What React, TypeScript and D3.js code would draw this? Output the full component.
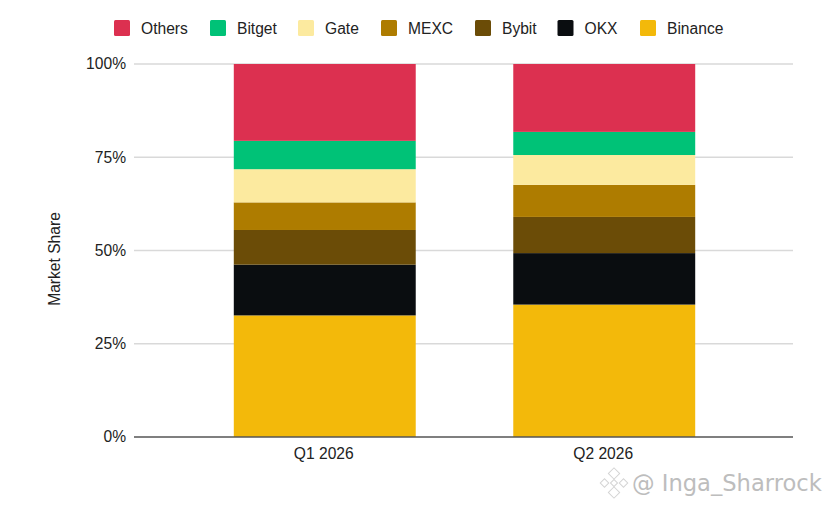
import { useEffect, useRef } from "react";
import * as d3 from "d3";

const quarters = ["Q1 2026", "Q2 2026"];
// stacked bottom to top
const exchanges = ["Binance", "OKX", "Bybit", "MEXC", "Gate", "Bitget", "Others"];
const q1Shares = [32.6, 13.6, 9.3, 7.4, 8.9, 7.6, 20.6];
const q2Shares = [35.5, 13.8, 9.7, 8.6, 8.0, 6.2, 18.2];
const exchangeColors = ["#f3b90a", "#0a0d10", "#6b4c07", "#ae7c00", "#fcea9f", "#00c277", "#dc3050"];
const legendOrder = ["Others", "Bitget", "Gate", "MEXC", "Bybit", "OKX", "Binance"];
const legendX = [114, 210, 298, 381, 475, 557.5, 640];
const yTicks = [0, 25, 50, 75, 100];

const W = 829;
const H = 508;
const FONT = "'Liberation Sans', Arial, sans-serif";
const LABEL_SIZE = 15.6;

export default function App() {
  const svgRef = useRef<SVGSVGElement>(null);

  useEffect(() => {
    if (!svgRef.current) return;
    const svg = d3.select(svgRef.current);
    svg.selectAll("*").remove();

    const x = d3
      .scaleBand<string>()
      .domain(quarters)
      .range([135, 794])
      .paddingInner(0.349)
      .paddingOuter(0.3535);
    const y = d3.scaleLinear().domain([0, 100]).range([437, 64]);
    const color = d3.scaleOrdinal<string, string>().domain(exchanges).range(exchangeColors);

    // gridlines + y labels
    const grid = svg.append("g");
    grid
      .selectAll("line")
      .data(yTicks.filter((t) => t > 0))
      .enter()
      .append("line")
      .attr("x1", 134)
      .attr("x2", 793)
      .attr("y1", (d) => y(d))
      .attr("y2", (d) => y(d))
      .attr("stroke", "#d9d9d9")
      .attr("stroke-width", 1.3);

    svg
      .append("g")
      .selectAll("text")
      .data(yTicks)
      .enter()
      .append("text")
      .attr("x", 126)
      .attr("y", (d) => y(d))
      .attr("dy", "0.35em")
      .attr("text-anchor", "end")
      .attr("font-size", LABEL_SIZE)
      .attr("fill", "#222")
      .text((d) => `${d}%`);

    // stacked bars
    const rows = quarters.map((q, i) => {
      const src = i === 0 ? q1Shares : q2Shares;
      const row: Record<string, any> = { quarter: q };
      exchanges.forEach((e, j) => {
        row[e] = src[j];
      });
      return row;
    });
    const layers = d3.stack<any>().keys(exchanges)(rows);

    svg
      .append("g")
      .selectAll("g")
      .data(layers)
      .enter()
      .append("g")
      .attr("fill", (d) => color(d.key))
      .selectAll("rect")
      .data((d) => d)
      .enter()
      .append("rect")
      .attr("x", (d) => x(d.data.quarter)!)
      .attr("y", (d) => y(d[1]))
      .attr("width", x.bandwidth())
      .attr("height", (d) => y(d[0]) - y(d[1]));

    // baseline
    svg
      .append("line")
      .attr("x1", 134)
      .attr("x2", 793)
      .attr("y1", y(0))
      .attr("y2", y(0))
      .attr("stroke", "#555")
      .attr("stroke-width", 1.3);

    svg
      .append("g")
      .selectAll("text")
      .data(quarters)
      .enter()
      .append("text")
      .attr("x", (d) => x(d)! + x.bandwidth() / 2 - 1)
      .attr("y", 459)
      .attr("text-anchor", "middle")
      .attr("font-size", LABEL_SIZE)
      .attr("fill", "#222")
      .text((d) => d);

    svg
      .append("text")
      .attr("transform", "translate(59.5,259) rotate(-90)")
      .attr("text-anchor", "middle")
      .attr("font-size", LABEL_SIZE)
      .attr("fill", "#222")
      .text("Market Share");

    // legend
    const legend = svg
      .selectAll<SVGGElement, string>("g.legend")
      .data(legendOrder)
      .enter()
      .append("g")
      .attr("class", "legend")
      .attr("transform", (_d, i) => `translate(${legendX[i]},20)`);
    legend
      .append("rect")
      .attr("width", 16)
      .attr("height", 16)
      .attr("rx", 1.5)
      .attr("fill", (d) => color(d));
    legend
      .append("text")
      .attr("x", 27)
      .attr("y", 8.5)
      .attr("dy", "0.35em")
      .attr("font-size", LABEL_SIZE)
      .attr("fill", "#222")
      .text((d) => d);

    // watermark
    const mark = svg.append("g").attr("transform", "translate(614,483)");
    [
      [0, -9.5, 8],
      [-9.5, 0, 6],
      [9.5, 0, 6],
      [0, 9.5, 8],
      [0, 0, 5],
    ].forEach(([dx, dy, s]) => {
      mark
        .append("rect")
        .attr("x", -s / 2)
        .attr("y", -s / 2)
        .attr("width", s)
        .attr("height", s)
        .attr("transform", `translate(${dx},${dy}) rotate(45)`)
        .attr("fill", "#fff")
        .attr("stroke", "#d4d4d4")
        .attr("stroke-width", 1);
    });
    svg
      .append("text")
      .attr("x", 632)
      .attr("y", 491)
      .attr("font-family", "'DejaVu Sans', sans-serif")
      .attr("font-size", 22.6)
      .attr("fill", "#bdbdbd")
      .text("@ Inga_Sharrock");
  }, []);

  return (
    <svg
      ref={svgRef}
      width={W}
      height={H}
      style={{ position: "absolute", left: 0, top: 0, fontFamily: FONT, background: "#fff" }}
    />
  );
}
